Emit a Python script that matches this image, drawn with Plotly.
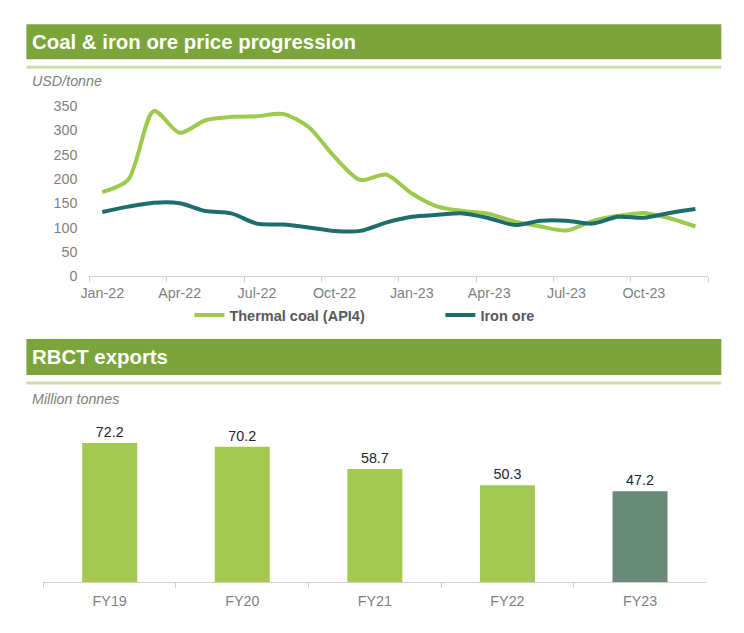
import plotly.graph_objects as go

W, H = 744, 633

# The captured page comes out with the body margin and is scaled to fit the
# window, so layout positions are expressed in the reference's pixel space and
# converted back through that calibration.
OFF_X, OFF_Y = 7.6, 7.8
SX, SY = 0.988, 633 / 649

# ---------------- data ----------------
months = ["Jan-22", "Feb-22", "Mar-22", "Apr-22", "May-22", "Jun-22", "Jul-22", "Aug-22",
          "Sep-22", "Oct-22", "Nov-22", "Dec-22", "Jan-23", "Feb-23", "Mar-23", "Apr-23",
          "May-23", "Jun-23", "Jul-23", "Aug-23", "Sep-23", "Oct-23", "Nov-23", "Dec-23"]
thermal_coal = [173, 198, 340, 295, 321, 328, 329, 334, 307, 246, 198, 209,
                170, 143, 134, 128, 112, 102, 94, 113, 124, 130, 119, 102]
iron_ore = [132, 143, 151, 150, 134, 129, 108, 106, 100, 93, 93, 110,
            122, 126, 129, 119, 105, 114, 114, 108, 122, 120, 130, 138]
month_tick_labels = ["Jan-22", "Apr-22", "Jul-22", "Oct-22", "Jan-23", "Apr-23", "Jul-23", "Oct-23"]

fy_labels = ["FY19", "FY20", "FY21", "FY22", "FY23"]
rbct_exports = [72.2, 70.2, 58.7, 50.3, 47.2]

# ---------------- styles ----------------
FONT = "Liberation Sans, Arial, sans-serif"
HEADER_GREEN = "#7ba43a"
RULE_GREEN = "#cadfa8"
COAL_GREEN = "#9dc94c"
IRON_TEAL = "#1c6d6c"
BAR_GREEN = "#a4c953"
BAR_DARK = "#6a8a79"
GRAY = "#7f7f7f"
AXIS_GRAY = "#d0d0d0"


def px_x(x):
    return ((x - OFF_X) / SX) / W


def px_y(y):
    return 1 - ((y - OFF_Y) / SY) / H


def fs(size):
    return round(size / ((SX + SY) / 2), 1)


month_idx = list(range(len(months)))
tick_idx = [months.index(m) for m in month_tick_labels]

fig = go.Figure()

fig.add_trace(go.Scatter(
    x=month_idx, y=thermal_coal, mode="lines", name="Thermal coal (API4)",
    line=dict(color=COAL_GREEN, width=4, shape="spline", smoothing=0.8),
    xaxis="x", yaxis="y",
))
fig.add_trace(go.Scatter(
    x=month_idx, y=iron_ore, mode="lines", name="Iron ore",
    line=dict(color=IRON_TEAL, width=4, shape="spline", smoothing=0.8),
    xaxis="x", yaxis="y",
))

bar_colors = [BAR_GREEN] * (len(fy_labels) - 1) + [BAR_DARK]
fig.add_trace(go.Bar(
    x=fy_labels, y=rbct_exports, marker=dict(color=bar_colors, line=dict(width=0)),
    width=0.415, text=[f"{v:.1f}" for v in rbct_exports], textposition="outside",
    textfont=dict(family=FONT, size=fs(14), color="#262626"), cliponaxis=False,
    showlegend=False, xaxis="x2", yaxis="y2", hoverinfo="x+y",
))

# header bars & rules
shapes = []
annotations = []
for top, bottom, rule_y, title, unit, unit_y in [
    (24, 59, 67, "Coal &amp; iron ore price progression", "USD/tonne", 81),
    (339, 375, 383, "RBCT exports", "Million tonnes", 399),
]:
    shapes.append(dict(type="rect", xref="paper", yref="paper",
                       x0=px_x(25), x1=px_x(720), y0=px_y(bottom), y1=px_y(top),
                       fillcolor=HEADER_GREEN, line=dict(width=0), layer="below"))
    shapes.append(dict(type="line", xref="paper", yref="paper",
                       x0=px_x(25), x1=px_x(720), y0=px_y(rule_y), y1=px_y(rule_y),
                       line=dict(color=RULE_GREEN, width=3)))
    annotations.append(dict(text=f"<b>{title}</b>", xref="paper", yref="paper",
                            x=px_x(29), y=px_y((top + bottom) / 2), xanchor="left", yanchor="middle",
                            showarrow=False, font=dict(family=FONT, size=fs(20), color="white")))
    annotations.append(dict(text=f"<i>{unit}</i>", xref="paper", yref="paper",
                            x=px_x(29), y=px_y(unit_y), xanchor="left", yanchor="middle",
                            showarrow=False, font=dict(family=FONT, size=fs(14), color=GRAY)))

fig.update_layout(
    width=W, height=H,
    margin=dict(l=0, r=0, t=0, b=0),
    paper_bgcolor="white", plot_bgcolor="white",
    font=dict(family=FONT, color=GRAY),
    shapes=shapes, annotations=annotations,
    showlegend=True,
    legend=dict(orientation="h", x=px_x(188), y=px_y(315), xanchor="left", yanchor="middle",
                entrywidth=206, entrywidthmode="pixels",
                font=dict(family=FONT, size=fs(14.2), color="#595959", weight="bold"),
                bgcolor="rgba(0,0,0,0)"),
    xaxis=dict(domain=[px_x(88), px_x(707)], range=[-0.5, len(months) - 0.5],
               tickvals=tick_idx, ticktext=month_tick_labels, ticks="",
               showgrid=False, zeroline=False, showline=True, linecolor=AXIS_GRAY, linewidth=1,
               tickfont=dict(size=fs(14), color=GRAY), ticklabelstandoff=4,
               minor=dict(tickvals=[i - 0.5 for i in tick_idx] + [len(months) - 0.5],
                          ticks="outside", ticklen=5, tickcolor=AXIS_GRAY, showgrid=False),
               fixedrange=True),
    yaxis=dict(domain=[px_y(276), px_y(106)], range=[0, 350], tickvals=list(range(0, 351, 50)),
               showgrid=False, zeroline=False, showline=False, ticks="",
               tickfont=dict(size=fs(14), color=GRAY), ticklabelstandoff=11, fixedrange=True),
    xaxis2=dict(domain=[px_x(42), px_x(705)], anchor="y2", type="category",
                tickson="boundaries", ticks="outside", ticklen=5, tickcolor=AXIS_GRAY,
                showgrid=False, zeroline=False, showline=True, linecolor=AXIS_GRAY, linewidth=1,
                tickfont=dict(size=fs(14), color=GRAY), ticklabelstandoff=6, fixedrange=True),
    yaxis2=dict(domain=[px_y(582.5), px_y(428)], anchor="x2", range=[0, 80], visible=False,
                fixedrange=True),
)

fig.write_html("out.html")
